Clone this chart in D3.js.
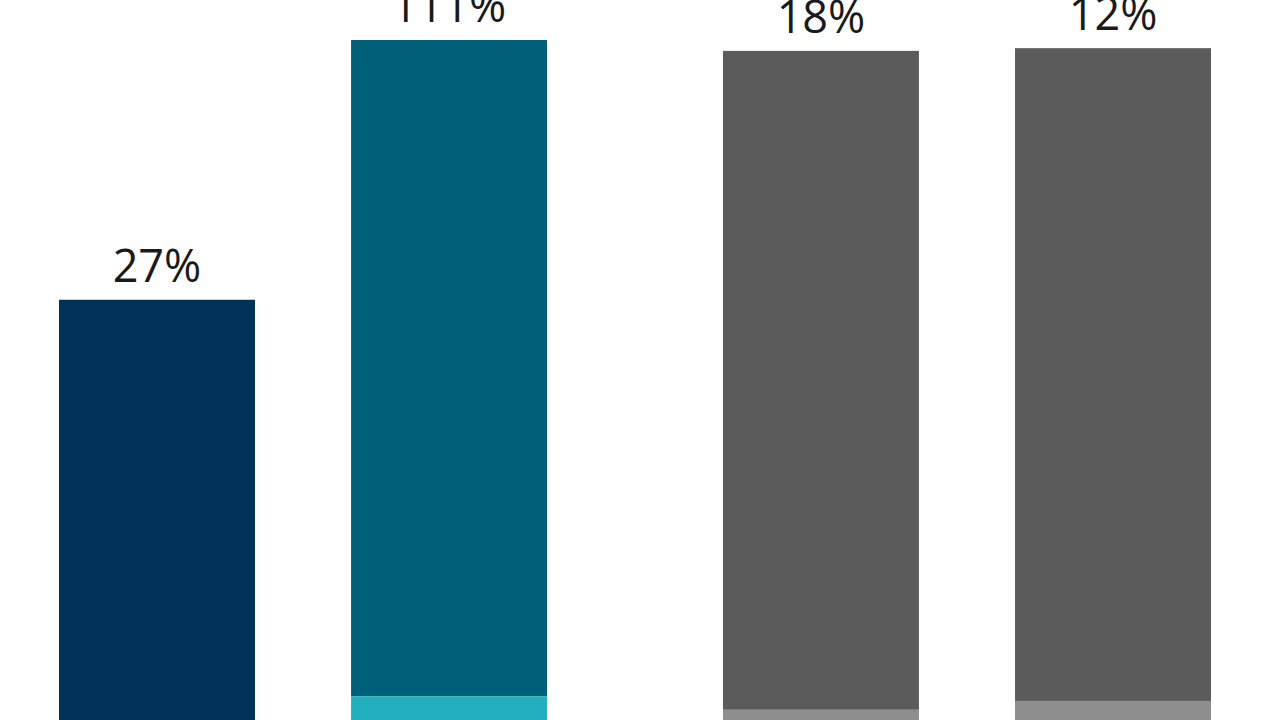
<!DOCTYPE html>
<html>
<head>
<meta charset="utf-8">
<script src="https://cdn.jsdelivr.net/npm/d3@7"></script>
<style>
  html, body { margin: 0; padding: 0; background: #fff; overflow: hidden; }
  svg { display: block; }
  .label { font-family: "Open Sans", sans-serif; font-size: 45px; fill: #1a1a1a; }
</style>
</head>
<body>
<svg id="chart"></svg>
<script>
// Chart data (heights, in index units; 100 = tallest bar)
const categories = ["Bar 1", "Bar 2", "Bar 3", "Bar 4"];
const groups = ["Group 1", "Group 1", "Group 2", "Group 2"];
const valueLabels = ["27%", "111%", "18%", "12%"];
const totalValues = [61.8, 100, 98.4, 98.8];
const baseValues = [0, 3.5, 1.5, 2.8];
const topColors = ["#00325a", "#005f79", "#5b5b5b", "#5b5b5b"];
const baseColors = ["#00325a", "#22b0be", "#8e8e8e", "#8e8e8e"];

const width = 1280;
const height = 720;

const svg = d3.select("#chart").attr("width", width).attr("height", height);

// Outer scale for the two groups, inner scale for bars inside a group
const x0 = d3
  .scaleBand()
  .domain(["Group 1", "Group 2"])
  .range([59, 1211])
  .paddingInner(0.265)
  .paddingOuter(0);

const x1 = d3
  .scaleBand()
  .domain([0, 1])
  .range([0, x0.bandwidth()])
  .paddingInner(0.329)
  .paddingOuter(0);

const y = d3.scaleLinear().domain([0, 100]).range([height, 40]);

const data = categories.map((c, i) => ({
  name: c,
  group: groups[i],
  slot: groups.slice(0, i).filter((g) => g === groups[i]).length,
  total: totalValues[i],
  base: baseValues[i],
  label: valueLabels[i],
  topColor: topColors[i],
  baseColor: baseColors[i],
}));

const xPos = (d) => x0(d.group) + x1(d.slot);

const bar = svg
  .append("g")
  .selectAll("g")
  .data(data)
  .join("g");

// upper segment
bar
  .append("rect")
  .attr("x", xPos)
  .attr("width", x1.bandwidth())
  .attr("y", (d) => y(d.total))
  .attr("height", (d) => y(d.base) - y(d.total))
  .attr("fill", (d) => d.topColor);

// base segment
bar
  .filter((d) => d.base > 0)
  .append("rect")
  .attr("x", xPos)
  .attr("width", x1.bandwidth())
  .attr("y", (d) => y(d.base))
  .attr("height", (d) => y(0) - y(d.base))
  .attr("fill", (d) => d.baseColor);

// value labels
bar
  .append("text")
  .attr("class", "label")
  .attr("text-anchor", "middle")
  .attr("x", (d) => xPos(d) + x1.bandwidth() / 2)
  .attr("y", (d) => y(d.total) - 18)
  .text((d) => d.label);
</script>
</body>
</html>
